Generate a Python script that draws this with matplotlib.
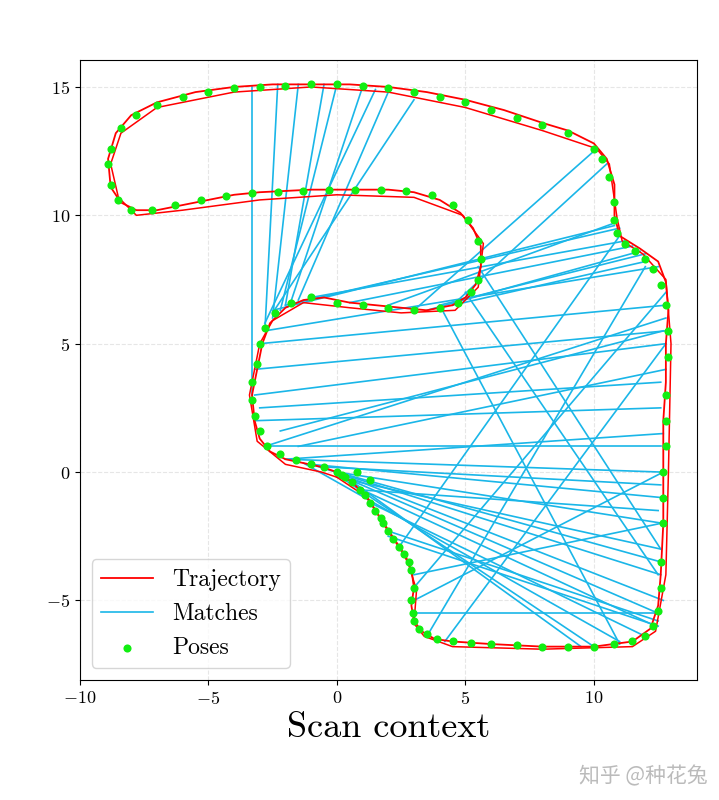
import matplotlib
matplotlib.use("Agg")
import matplotlib.pyplot as plt

plt.rcParams['font.family'] = ['serif']
plt.rcParams['font.serif'] = ['cmr10', 'DejaVu Serif']
plt.rcParams['mathtext.fontset'] = 'cm'
plt.rcParams['axes.formatter.use_mathtext'] = True

traj_x = [0, 0.6, 1.1, 1.5, 1.8, 2.2, 2.6, 2.9, 3.0, 2.9, 3.0, 3.3, 3.8, 4.5, 6, 8, 10, 11.5, 12.2, 12.5, 12.6, 12.7, 12.7, 12.7, 12.8, 12.8, 12.9, 12.8, 12.5, 11.8, 11.0, 10.8, 10.8, 10.5, 10.0, 9.0, 8.0, 6.5, 5.0, 3.5, 2.0, 0.5, -1.0, -2.5, -4.0, -5.5, -7.0, -8.0, -8.6, -8.9, -8.8, -8.4, -7.8, -7.0, -6.0, -5.0, -4.0, -3.0, -2.0, -1.0, 0, 1.0, 2.0, 3.0, 4.0, 4.8, 5.3, 5.6, 5.6, 5.4, 5.0, 4.5, 3.5, 2.5, 1.5, 0.5, -0.5, -1.3, -2.0, -2.6, -2.9, -3.1, -3.3, -3.2, -3.0, -2.6, -2.0, -1.3, -0.6, 0]
traj_y = [0, -0.4, -0.9, -1.5, -2.0, -2.6, -3.2, -3.8, -4.5, -5.2, -5.8, -6.2, -6.5, -6.6, -6.7, -6.8, -6.8, -6.6, -6.1, -5.2, -4.0, -2.0, 0.0, 2.0, 3.5, 5.0, 6.3, 7.4, 8.2, 8.7, 9.2, 10.0, 11.2, 12.2, 12.8, 13.3, 13.6, 14.1, 14.5, 14.8, 15.0, 15.1, 15.1, 15.1, 15.0, 14.8, 14.4, 13.9, 13.2, 12.2, 11.1, 10.5, 10.2, 10.2, 10.4, 10.6, 10.8, 10.9, 10.95, 11.0, 11.0, 11.0, 11.0, 10.9, 10.6, 10.1, 9.5, 8.8, 8.0, 7.3, 6.8, 6.5, 6.3, 6.4, 6.5, 6.6, 6.8, 6.7, 6.4, 5.8, 5.0, 4.0, 3.0, 2.0, 1.3, 0.8, 0.5, 0.35, 0.2, 0]

traj2_x = [0, 1.2, 1.9, 2.7, 3.1, 3.0, 3.4, 4.5, 8, 11.5, 12.4, 12.8, 12.9, 13.0, 12.8, 11.9, 11.1, 10.9, 10.6, 10.1, 8.0, 5.0, 2.0, -1.0, -4.0, -7.0, -8.4, -8.8, -8.5, -7.8, -6.0, -3.0, 0, 3.0, 4.9, 5.7, 5.5, 4.6, 2.5, 0.5, -1.3, -2.5, -3.0, -3.4, -3.1, -2.0, -0.6, 0]
traj2_y = [-0.2, -1.0, -2.1, -3.3, -4.6, -5.9, -6.4, -6.8, -6.9, -6.8, -6.2, -4.0, 0.0, 5.0, 7.5, 8.5, 9.0, 9.9, 12.0, 12.6, 13.3, 14.2, 14.8, 15.0, 14.8, 14.2, 13.2, 12.0, 10.7, 10.0, 10.2, 10.6, 10.8, 10.7, 10.0, 8.9, 7.2, 6.3, 6.2, 6.4, 6.6, 5.9, 5.0, 3.0, 1.2, 0.3, 0.0, -0.2]

pose_x = [0, 0.3, 0.6, 0.9, 1.1, 1.3, 1.5, 1.7, 1.8, 2.0, 2.2, 2.4, 2.6, 2.8, 2.9, 3.0, 2.9, 2.95, 3.0, 3.2, 3.5, 3.9, 4.5, 5.2, 6.0, 7.0, 8.0, 9.0, 10.0, 10.8, 11.5, 12.0, 12.3, 12.5, 12.6, 12.6, 12.7, 12.7, 12.7, 12.8, 12.8, 12.8, 12.9, 12.9, 12.8, 12.6, 12.3, 12.0, 11.6, 11.2, 10.9, 10.8, 10.8, 10.6, 10.3, 10.0, 9.0, 8.0, 7.0, 6.0, 5.0, 4.0, 3.0, 2.0, 1.0, 0, -1.0, -2.0, -3.0, -4.0, -5.0, -6.0, -7.0, -7.8, -8.4, -8.8, -8.9, -8.8, -8.5, -8.0, -7.2, -6.3, -5.3, -4.3, -3.3, -2.3, -1.3, -0.3, 0.7, 1.7, 2.7, 3.7, 4.5, 5.1, 5.5, 5.6, 5.5, 5.2, 4.7, 4.0, 3.0, 2.0, 1.0, 0, -1.0, -1.8, -2.4, -2.8, -3.0, -3.1, -3.3, -3.3, -3.2, -3.0, -2.7, -2.2, -1.6, -1.0, -0.5, 0.2, 0.8, 1.3]
pose_y = [0, -0.2, -0.4, -0.7, -0.9, -1.2, -1.5, -1.8, -2.0, -2.3, -2.6, -2.9, -3.2, -3.5, -3.8, -4.5, -5.0, -5.5, -5.8, -6.1, -6.3, -6.5, -6.6, -6.65, -6.7, -6.75, -6.8, -6.8, -6.8, -6.7, -6.6, -6.4, -6.0, -5.4, -4.5, -3.5, -2.0, -1.0, 0.0, 1.0, 2.0, 3.0, 4.5, 5.5, 6.5, 7.3, 7.9, 8.3, 8.6, 8.9, 9.3, 9.8, 10.5, 11.5, 12.2, 12.6, 13.2, 13.5, 13.8, 14.1, 14.4, 14.6, 14.8, 14.95, 15.05, 15.1, 15.1, 15.05, 15.0, 14.95, 14.8, 14.6, 14.3, 13.9, 13.4, 12.6, 12.0, 11.2, 10.6, 10.2, 10.2, 10.4, 10.6, 10.75, 10.85, 10.9, 10.95, 11.0, 11.0, 11.0, 10.95, 10.8, 10.4, 9.8, 9.0, 8.3, 7.5, 7.0, 6.6, 6.4, 6.3, 6.4, 6.5, 6.6, 6.8, 6.6, 6.2, 5.6, 5.0, 4.2, 3.5, 2.8, 2.2, 1.6, 1.0, 0.7, 0.45, 0.3, 0.2, -0.1, 0.0, -0.3]

match_x1 = [-3.3, -2.3, -1.5, -0.5, 0.0, 1.0, 2.0, 3.0, 1.5, 10.0, 10.5, 10.8, 11.0, 11.2, 10.8, 12.0, 12.5, 12.8, 12.8, 12.8, 12.8, 11.5, 12.6, 12.6, 12.6, 12.7, 12.7, 12.6, 12.6, 12.7, 12.5, 12.4, 10.0, 11.0, 12.0, 12.5, 5.0, 4.0, 2.0, 3.0, 3.0, 3.0, 3.5, 4.2, 5.5, 12.8, 12.6, 12.7, 12.6, 12.8, 12.5, 11.8, 9.5, 12.0, 11.0, 12.6, 12.7]
match_y1 = [15.0, 15.1, 15.1, 15.1, 15.1, 15.0, 14.8, 14.5, 14.9, 12.5, 12.0, 9.6, 9.5, 9.0, 9.7, 8.5, 8.0, 6.5, 5.5, 5.0, 6.0, 8.8, 2.5, 1.0, 0.0, -1.0, -2.0, -3.0, -4.0, -5.0, -5.5, -6.0, -6.8, -6.6, -6.4, -5.8, 7.0, 6.5, -2.5, -4.0, -5.0, -5.5, -6.4, -6.6, 8.0, 7.0, 3.5, 1.5, -0.5, 4.0, -1.5, 8.6, -6.8, 8.2, 9.2, -3.5, 5.5]
match_x2 = [-3.3, -2.8, -2.5, -2.0, -2.2, -1.8, -1.5, -2.5, -2.8, 3.0, 4.5, -2.5, -2.0, -1.0, 2.0, 4.0, -2.8, -3.0, -3.2, -3.2, -2.8, 0.5, -3.2, -2.8, -2.0, -1.0, 0.0, 0.0, -1.0, 0.2, 0.5, 1.0, 0.0, -1.3, 1.3, 2.0, 12.5, 11.0, 12.5, 12.6, 12.7, 12.5, 12.0, 12.8, 12.6, 3.0, -3.0, -2.0, -0.5, -1.5, 1.0, 3.5, 0.5, 4.5, 2.5, 0.0, -2.2]
match_y2 = [3.0, 5.5, 6.0, 6.5, 6.3, 6.6, 6.7, 6.2, 5.8, 6.3, 6.5, 6.3, 6.5, 6.8, 6.5, 6.5, 5.5, 5.0, 4.0, 3.0, 1.0, 6.6, 2.0, 1.0, 0.5, 0.3, 0.0, -0.2, 0.3, -0.1, -0.3, -0.7, -0.1, 0.35, -1.2, -2.3, -4.0, -6.7, -6.0, -2.0, 0.0, -5.5, 8.0, 5.0, -3.0, -4.5, 2.5, 0.5, 0.2, 1.0, -0.7, 6.3, -0.3, 6.5, -2.8, 0.0, 1.6]

fig = plt.figure(figsize=(7.19, 8), dpi=100)
ax = fig.add_axes([0.111, 0.15, 0.858, 0.775])

for i in range(len(match_x1)):
    ax.plot([match_x1[i], match_x2[i]], [match_y1[i], match_y2[i]],
            color='#1ab6e8', lw=1.2, zorder=2,
            label='Matches' if i == 0 else None)
ax.plot(traj_x, traj_y, color='#ff0000', lw=1.3, zorder=3, label='Trajectory')
ax.plot(traj2_x, traj2_y, color='#ff0000', lw=1.1, zorder=3)
ax.scatter(pose_x, pose_y, s=34, color='#11ee11', zorder=4, label='Poses', linewidths=0)

ax.set_xlim(-10, 14)
ax.set_ylim(-8.1, 16.05)
ax.set_xticks([-10, -5, 0, 5, 10])
ax.set_yticks([-5, 0, 5, 10, 15])
ax.tick_params(labelsize=13)
ax.grid(True, ls='--', color='#e6e6e6', lw=0.8)
ax.set_axisbelow(True)
ax.set_xlabel('Scan context', fontsize=26)

h, l = ax.get_legend_handles_labels()
order = [l.index('Trajectory'), l.index('Matches'), l.index('Poses')]
ax.legend([h[i] for i in order], [l[i] for i in order], loc='lower left',
          fontsize=17, scatterpoints=1, handlelength=2.2, framealpha=0.8,
          edgecolor='#cccccc')

fig.text(0.985, 0.03, '知乎 @种花兔', ha='right', va='center', fontsize=15,
         color='#bbbbbb', family=['Noto Sans CJK SC', 'DejaVu Sans'])

fig.savefig('out.png', dpi=100)
